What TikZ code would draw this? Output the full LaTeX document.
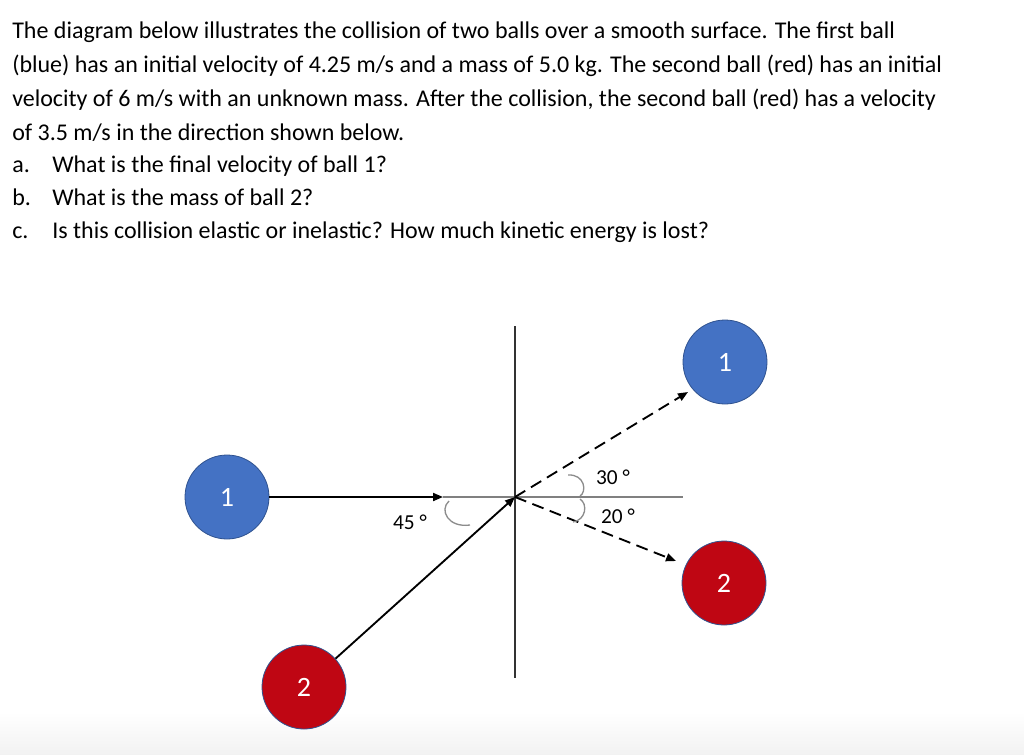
\documentclass[tikz,border=0pt]{standalone}
\usepackage{fontspec}
\setmainfont{Carlito}
\usetikzlibrary{arrows.meta}
\definecolor{ballblue}{HTML}{4472C4}
\definecolor{ballred}{HTML}{BF0613}
\definecolor{rimblue}{HTML}{2F528F}
\begin{document}
\begin{tikzpicture}[x=0.75pt,y=-0.75pt,
ball/.style={draw=rimblue,line width=0.6pt,circle,minimum size=63pt,inner sep=0pt,text=white,font=\fontsize{21}{25}\selectfont},
txt/.style={anchor=base west,inner sep=0pt,font=\fontsize{18}{21}\selectfont},
deg/.style={inner sep=0pt,font=\fontsize{16}{19}\selectfont},
velo/.style={draw,line width=1.4pt,-{Triangle[length=7.5pt,width=6pt]}},
afterv/.style={velo,dash pattern=on 9pt off 5pt},
axis/.style={draw,line width=1.1pt,black!80},
guide/.style={draw,line width=1.1pt,black!50},
anglemark/.style={draw,line width=1pt,black!45}]
\useasboundingbox (0,0) rectangle (1024,754);
\fill[top color=white,bottom color=black!5] (0,712) rectangle (1024,754);
% question text
\node[txt] (q1) at (12,38) {The diagram below illustrates the collision of two balls over a smooth surface. The first ball};
\node[txt] (q2) at (12,72) {(blue) has an initial velocity of 4.25 m/s and a mass of 5.0 kg. The second ball (red) has an initial};
\node[txt] (q3) at (12,106) {velocity of 6 m/s with an unknown mass. After the collision, the second ball (red) has a velocity};
\node[txt] (q4) at (12,140) {of 3.5 m/s in the direction shown below.};
\node[txt] (la) at (12,172) {a.};
\node[txt] (qa) at (52,172) {What is the final velocity of ball 1?};
\node[txt] (lb) at (12,205) {b.};
\node[txt] (qb) at (52,205) {What is the mass of ball 2?};
\node[txt] (lc) at (12,238) {c.};
\node[txt] (qc) at (52,238) {Is this collision elastic or inelastic? How much kinetic energy is lost?};
% balls
\node[ball,fill=ballblue] (b1in) at (227,497) {1};
\node[ball,fill=ballred] (b2in) at (304,687) {2};
\node[ball,fill=ballblue] (b1out) at (725,362) {1};
\node[ball,fill=ballred] (b2out) at (724,583) {2};
\coordinate (o) at (515,497);
\coordinate (a1) at (443,497);
\coordinate (hend) at (683,497);
\coordinate (vtop) at (515,326);
\coordinate (vbot) at (515,678);
\coordinate (t1) at (688,392);
\coordinate (t2) at (676,561);
% axes
\path[guide] (a1) -- (hend);
\path[axis] (vtop) -- (vbot);
% velocities
\path[velo] (b1in) -- (a1);
\path[velo] (b2in) -- (o);
\path[afterv] (o) -- (t1);
\path[afterv] (o) -- (t2);
% angles
\path[anglemark] (449,501) .. controls (439,510) and (448,528) .. (470,525);
\path[anglemark] (568,475) .. controls (585,474) and (587,492) .. (580,496);
\path[anglemark] (580,499) .. controls (588,504) and (586,520) .. (573,522);
\node[deg] (d45) at (410,522) {45 °};
\node[deg] (d30) at (613,477) {30 °};
\node[deg] (d20) at (618,516) {20 °};
\end{tikzpicture}
\end{document}
